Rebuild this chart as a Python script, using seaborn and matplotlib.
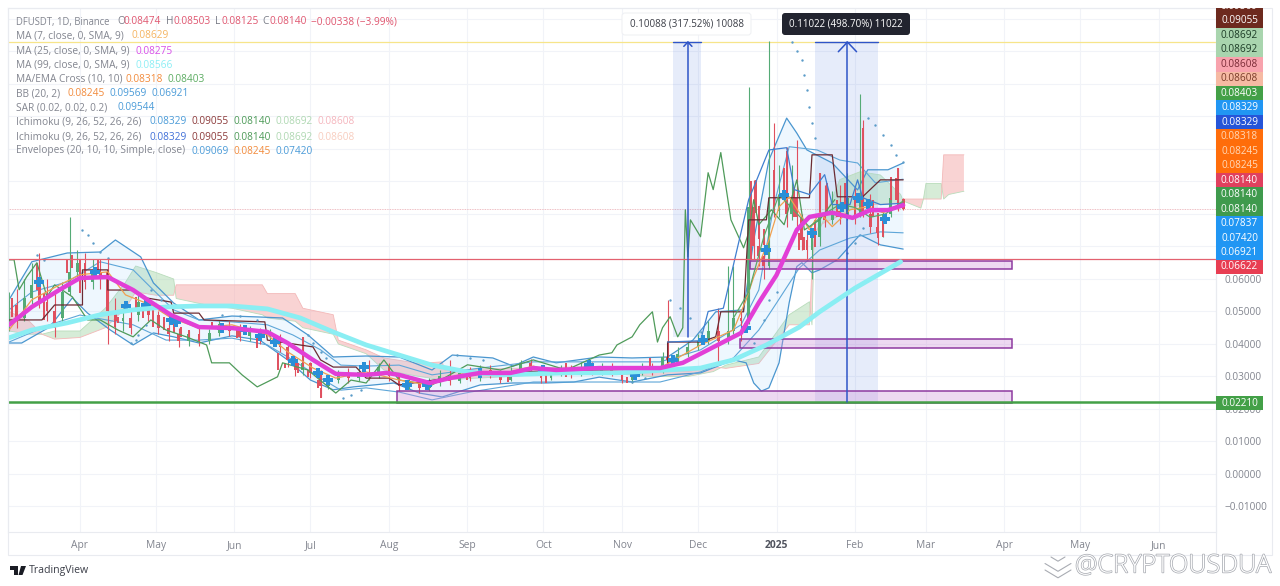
import numpy as np
import pandas as pd
import matplotlib
matplotlib.use('Agg')
import matplotlib.pyplot as plt
import matplotlib.patheffects as pe
from matplotlib.patches import Rectangle, Polygon, FancyBboxPatch
import seaborn as sns

# x axis is days since 2024-04-01, y axis is price
tick_days = [0, 30, 61, 91, 122, 153, 183, 214, 244, 275, 306, 334, 365, 395, 426]
tick_names = ['Apr', 'May', 'Jun', 'Jul', 'Aug', 'Sep', 'Oct', 'Nov', 'Dec', '2025', 'Feb', 'Mar', 'Apr', 'May', 'Jun']
price_ticks = [0.06, 0.05, 0.04, 0.03, 0.02, 0.01, 0.0, -0.01]

# ========== candles ==========
c_day = [-28, -25, -22, -19, -16, -13, -10, -7, -4, -1,
         2, 5, 8, 11, 14, 17, 20, 23, 27, 31,
         35, 39, 43, 47, 51, 55, 59, 63, 67, 71,
         75, 79, 82, 85, 88, 91, 95, 98, 102, 106,
         110, 114, 118, 122, 126, 130, 134, 138, 142, 146,
         150, 154, 158, 162, 166, 170, 174, 178, 182, 186,
         190, 194, 198, 202, 206, 210, 214, 218, 222, 226,
         230, 232, 236, 240, 244, 248, 252, 256, 258, 261,
         264, 266, 268, 270, 272, 274, 276, 279, 281, 283,
         285, 287, 289, 292, 294, 297, 300, 303, 306, 308,
         309, 312, 315, 317, 320, 323, 325]
c_open = [.0470, .0520, .0480, .0540, .0590, .0530, .0500, .0480, .0560, .0620,
          .0650, .0590, .0620, .0620, .0500, .0470, .0480, .0490, .0530, .0490,
          .0450, .0430, .0410, .0430, .0410, .0435, .0455, .0445, .0425, .0440,
          .0420, .0420, .0390, .0350, .0320, .0340, .0310, .0270, .0290, .0310,
          .0295, .0315, .0300, .0330, .0300, .0270, .0285, .0265, .0280, .0300,
          .0285, .0310, .0295, .0320, .0305, .0290, .0315, .0340, .0325, .0295,
          .0310, .0320, .0305, .0330, .0315, .0325, .0310, .0290, .0310, .0325,
          .0315, .0360, .0350, .0370, .0390, .0410, .0440, .0410, .0440, .0480,
          .0470, .0820, .0700, .0670, .0640, .0850, .0810, .0850, .0800, .0850,
          .0790, .0720, .0690, .0730, .0800, .0780, .0810, .0790, .0850, .0800,
          .0860, .0800, .0760, .0740, .0800, .0850, .0847]
c_close = [.0520, .0480, .0540, .0580, .0530, .0500, .0450, .0560, .0620, .0650,
           .0590, .0620, .0600, .0500, .0470, .0480, .0450, .0530, .0490, .0450,
           .0430, .0410, .0430, .0410, .0435, .0460, .0440, .0420, .0440, .0420,
           .0435, .0390, .0350, .0320, .0340, .0310, .0270, .0290, .0310, .0295,
           .0315, .0300, .0330, .0300, .0270, .0285, .0265, .0280, .0300, .0285,
           .0310, .0295, .0320, .0305, .0290, .0315, .0340, .0325, .0295, .0310,
           .0320, .0305, .0330, .0315, .0325, .0310, .0290, .0310, .0325, .0315,
           .0360, .0350, .0370, .0390, .0410, .0440, .0410, .0440, .0480, .0470,
           .0820, .0700, .0670, .0640, .0850, .0810, .0850, .0800, .0850, .0790,
           .0720, .0690, .0730, .0800, .0780, .0810, .0790, .0850, .0800, .0860,
           .0800, .0760, .0740, .0800, .0850, .0847, .0814]
c_high = [.0560, .0570, .0600, .0650, .0680, .0600, .0560, .0590, .0790, .0690,
          .0680, .0660, .0660, .0660, .0540, .0510, .0510, .0550, .0540, .0500,
          .0470, .0450, .0440, .0450, .0445, .0475, .0470, .0460, .0455, .0450,
          .0445, .0430, .0400, .0360, .0420, .0345, .0320, .0300, .0320, .0325,
          .0330, .0350, .0340, .0340, .0310, .0300, .0295, .0295, .0320, .0350,
          .0325, .0330, .0335, .0335, .0320, .0330, .0350, .0355, .0335, .0325,
          .0335, .0335, .0345, .0345, .0340, .0340, .0320, .0325, .0340, .0340,
          .0375, .0535, .0390, .0410, .0430, .0470, .0510, .0640, .0640, .0500,
          .1192, .0905, .0760, .0730, .1331, .1081, .0950, .1007, .0950, .1029,
          .0800, .0750, .0750, .0927, .0890, .0870, .0890, .0927, .0880, .1170,
          .1090, .0860, .0800, .0810, .0910, .0942, .0850]
c_low = [.0440, .0450, .0470, .0520, .0510, .0470, .0420, .0470, .0550, .0600,
         .0570, .0570, .0570, .0400, .0430, .0440, .0430, .0470, .0470, .0430,
         .0410, .0390, .0395, .0395, .0400, .0425, .0425, .0410, .0410, .0400,
         .0405, .0375, .0330, .0300, .0305, .0295, .0237, .0260, .0280, .0280,
         .0285, .0290, .0295, .0285, .0255, .0260, .0250, .0255, .0270, .0275,
         .0280, .0285, .0285, .0295, .0280, .0285, .0310, .0315, .0280, .0290,
         .0300, .0295, .0300, .0305, .0305, .0300, .0280, .0280, .0305, .0305,
         .0310, .0340, .0340, .0360, .0380, .0400, .0340, .0400, .0430, .0410,
         .0460, .0660, .0640, .0600, .0630, .0790, .0790, .0760, .0780, .0760,
         .0690, .0660, .0600, .0700, .0760, .0770, .0770, .0780, .0770, .0790,
         .0790, .0740, .0705, .0730, .0790, .0810, .0812]

# red candle bodies that stand out in the reference
red_day = [-27, -17, -14, -5, -3, 0, 7, 14, 15, 22, 25, 29, 33, 37, 40, 43, 52, 62, 70, 78,
           81, 86, 88, 90, 94, 95, 153, 169, 184, 192, 216, 225,
           265, 267, 268, 270, 274, 278, 279, 282, 284, 286, 290, 292, 295, 299, 302, 306, 309, 313,
           315, 317, 320, 322, 323]
red_top = [.0542, .0650, .0557, .0659, .0674, .0659, .0659, .0496, .0484, .0545, .0514, .0505, .0484, .0474,
           .0453, .0443, .0468, .0443, .0422, .0373, .0342, .0342, .0422, .0320, .0289, .0265,
           .0320, .0314, .0311, .0342, .0299, .0357,
           .0902, .0905, .0825, .0754, .0936, .0943, .0995, .0884, .0742, .0730, .0782, .0927, .0896,
           .0844, .0896, .0853, .1066, .0844, .0804, .0791, .0914, .0911, .0942]
red_bot = [.0484, .0567, .0474, .0619, .0634, .0558, .0619, .0453, .0465, .0505, .0480, .0453, .0443, .0434,
           .0422, .0419, .0449, .0419, .0388, .0320, .0326, .0311, .0329, .0299, .0265, .0234,
           .0289, .0283, .0280, .0299, .0280, .0314,
           .0659, .0804, .0723, .0705, .0813, .0844, .0862, .0791, .0690, .0690, .0699, .0804, .0804,
           .0791, .0822, .0791, .0813, .0791, .0727, .0730, .0844, .0844, .0819]

# ========== moving averages ==========
ma25_day = [-28, -19, -8, 0, 11, 21, 28, 36, 47, 60, 74, 82, 92, 101, 113, 121, 126, 138, 146, 158,
            170, 179, 188, 205, 229, 238, 248, 261, 268, 275, 283, 288, 297, 305, 312, 319, 325]
ma25_val = [.0459, .0514, .0567, .0603, .0606, .0566, .0529, .0489, .0452, .0449, .0437, .0403, .0351, .0308,
            .0305, .0311, .0305, .0280, .0295, .0311, .0311, .0326, .0320, .0326, .0326, .0342, .0382, .0434,
            .0527, .0612, .0751, .0791, .0804, .0788, .0812, .0812, .0827]

ma99_day = [-28, -19, -5, 8, 21, 34, 47, 60, 74, 87, 100, 113, 126, 139, 153, 166, 192, 212, 232, 245,
            258, 271, 284, 292, 306, 324]
ma99_val = [.0419, .0443, .0465, .0490, .0505, .0514, .0517, .0517, .0508, .0480, .0437, .0397, .0366, .0335,
            .0314, .0305, .0311, .0311, .0320, .0326, .0351, .0397, .0452, .0499, .0572, .0653]

ma7_day = [-28, -19, -8, 0, 11, 18, 28, 36, 47, 60, 74, 82, 92, 101, 113, 126, 138, 153, 170, 179,
           188, 205, 229, 245, 258, 263, 266, 272, 276, 280, 284, 288, 292, 297, 304, 311, 317, 325]
ma7_val = [.0443, .0536, .0582, .0613, .0622, .0551, .0520, .0480, .0449, .0459, .0428, .0376, .0326, .0295,
           .0314, .0289, .0274, .0314, .0314, .0332, .0311, .0329, .0326, .0397, .0443, .0536, .0606, .0720,
           .0822, .0853, .0804, .0751, .0804, .0761, .0813, .0822, .0804, .0829]

ema_day = [258, 264, 270, 276, 282, 288, 294, 300, 306, 312, 318, 325]
ema_val = [.0480, .0560, .0730, .0860, .0810, .0760, .0800, .0830, .0820, .0790, .0800, .0840]

# ========== lagging span, green ==========
lag_day = [-28, -26, -24, -21, -17, -13, -10, -3, 3, 8, 15, 21, 28, 34, 42, 50, 52, 59, 64, 70,
           78, 80, 90, 98, 101, 107, 113, 120, 126, 139, 153, 166, 179, 192, 205, 210, 212, 218, 221, 226,
           228, 230, 233, 236, 238, 239, 240, 241, 245, 248, 250, 253, 257, 262, 264, 266, 268, 273, 278, 283,
           286, 292, 298]
lag_val = [.0659, .0659, .0567, .0607, .0650, .0545, .0582, .0545, .0474, .0474, .0443, .0422, .0474, .0443,
           .0422, .0397, .0342, .0342, .0305, .0268, .0299, .0342, .0320, .0268, .0249, .0289, .0280, .0351,
           .0289, .0274, .0336, .0320, .0351, .0320, .0366, .0373, .0397, .0422, .0459, .0499, .0406, .0450,
           .0484, .0422, .0450, .0813, .0668, .0782, .0730, .0927, .0875, .0989, .0782, .0696, .0742, .0844,
           .0767, .0813, .0767, .0905, .0751, .0782, .0844]

# ========== bands ==========
bb_up_day = [-28, -19, -5, 8, 14, 24, 29, 37, 47, 60, 71, 80, 90, 100, 113, 126, 139, 147, 163, 171,
             179, 188, 205, 218, 232, 242, 251, 262, 266, 272, 279, 283, 287, 297, 307, 311, 319, 325]
bb_up_val = [.0536, .0653, .0680, .0683, .0720, .0668, .0588, .0526, .0474, .0486, .0483, .0480, .0428, .0360,
             .0363, .0360, .0320, .0366, .0357, .0332, .0360, .0342, .0360, .0357, .0360, .0412, .0499, .0505,
             .0720, .0966, .1095, .1049, .0997, .0957, .0874, .0936, .0936, .0957]
bb_lo_day = [-28, -23, -12, -3, 3, 12, 21, 29, 37, 47, 60, 71, 82, 91, 100, 108, 124, 134, 143, 158,
             171, 184, 195, 205, 218, 232, 245, 258, 263, 266, 269, 272, 276, 280, 283, 285, 289, 292, 299, 305,
             308, 316, 325]
bb_lo_val = [.0403, .0403, .0452, .0542, .0495, .0443, .0397, .0434, .0422, .0403, .0425, .0412, .0351, .0289,
             .0259, .0268, .0280, .0249, .0237, .0274, .0280, .0280, .0283, .0298, .0283, .0305, .0311, .0351,
             .0342, .0280, .0255, .0265, .0342, .0527, .0638, .0650, .0619, .0628, .0659, .0711, .0736, .0705,
             .0692]
env_up_day = [-28, -19, -5, 8, 21, 29, 37, 47, 60, 74, 84, 95, 103, 113, 126, 139, 158, 179, 205, 229,
              245, 261, 268, 274, 280, 291, 300, 307, 314, 325]
env_up_val = [.0505, .0560, .0591, .0653, .0628, .0566, .0505, .0474, .0468, .0459, .0428, .0382, .0335, .0332,
              .0335, .0305, .0326, .0345, .0345, .0345, .0382, .0459, .0566, .0829, .1007, .0997, .0966, .0957,
              .0896, .0907]
env_lo_day = [-28, -12, 0, 21, 34, 47, 60, 74, 84, 95, 103, 113, 126, 139, 154, 179, 205, 229, 245, 258,
              268, 275, 284, 292, 304, 316, 325]
env_lo_val = [.0406, .0459, .0489, .0459, .0412, .0412, .0418, .0397, .0351, .0295, .0258, .0265, .0252, .0228,
              .0252, .0283, .0283, .0283, .0314, .0357, .0443, .0526, .0634, .0689, .0726, .0745, .0742]

# ========== ichimoku ==========
base_day = [-28, -15, -10, 1, 1, 11, 11, 21, 26, 36, 37, 47, 49, 73, 74, 92, 95, 100, 109, 113,
            122, 126, 154, 190, 221, 232, 232, 245, 251, 253, 262, 264, 271, 272, 288, 289, 297, 299, 309, 316,
            325]
base_val = [.0474, .0474, .0520, .0520, .0628, .0628, .0566, .0566, .0542, .0529, .0495, .0495, .0474, .0468,
            .0412, .0391, .0351, .0329, .0329, .0295, .0295, .0274, .0305, .0320, .0314, .0320, .0406, .0406,
            .0422, .0499, .0499, .0782, .0782, .0850, .0850, .0982, .0982, .0853, .0853, .0905, .0905]
conv_day = [232, 245, 248, 254, 264, 272, 279, 282, 288, 294, 297, 304, 307, 309, 316, 325]
conv_val = [.0406, .0410, .0500, .0510, .0844, .0997, .1004, .0875, .0860, .0921, .0829, .0829, .0905, .0850, .0829, .0833]

cloud_day = [-28, -20, -15, -10, 0, 10, 18, 22, 30, 37, 38, 50, 60, 72, 74, 85, 88, 100, 102, 113,
             120, 134, 143, 144, 170, 200, 225, 240, 250, 255, 268, 280, 288, 289, 290, 292, 300, 308, 316, 324,
             325, 332, 333, 334, 340, 341, 343, 349]
span_a = [.0440, .0430, .0430, .0440, .0440, .0510, .0590, .0640, .0620, .0600, .0540, .0520, .0510, .0490,
          .0480, .0470, .0450, .0430, .0400, .0370, .0320, .0300, .0290, .0290, .0300, .0315, .0300, .0300,
          .0315, .0335, .0360, .0490, .0530, .0459, .0750, .0751, .0906, .0930, .0920, .0860, .0840, .0818,
          .0846, .0894, .0894, .0846, .0860, .0870]
span_b = [.0500, .0470, .0430, .0415, .0420, .0450, .0510, .0560, .0550, .0550, .0582, .0582, .0582, .0582,
          .0555, .0555, .0510, .0490, .0412, .0382, .0357, .0340, .0345, .0320, .0325, .0330, .0320, .0315,
          .0330, .0325, .0340, .0459, .0459, .0638, .0740, .0766, .0795, .0829, .0829, .0835, .0846, .0846,
          .0846, .0846, .0846, .0982, .0982, .0982]

# ========== SAR dots and the blue crosses ==========
sar_day = [-17, -14, 1, 3, 5, 8, 11, 20, 22, 23, 26, 28, 32, 34, 56, 63, 70, 90, 92, 95,
           97, 104, 107, 111, 149, 154, 159, 218, 223, 228, 233, 237, 241, 245, 266, 270, 272, 275, 281, 283,
           285, 286, 287, 288, 289, 290, 303, 306, 309, 311, 314, 317, 320, 322, 325]
sar_val = [.0675, .0659, .0751, .0736, .0711, .0683, .0665, .0403, .0412, .0428, .0459, .0566, .0536, .0514,
           .0490, .0486, .0474, .0428, .0403, .0376, .0357, .0234, .0243, .0259, .0366, .0357, .0351, .0283,
           .0296, .0320, .0536, .0511, .0480, .0437, .0403, .0474, .0536, .0560, .1330, .1300, .1275, .1229,
           .1183, .1130, .1081, .1035, .0680, .0711, .0757, .1095, .1074, .1043, .1012, .0982, .0960]
cross_day = [-16, 6, 18, 26, 36, 38, 56, 65, 71, 77, 84, 94, 98, 112, 129, 137, 158, 183, 201, 219,
             234, 246, 263, 271, 278, 289, 301, 307, 311, 318]
cross_val = [.0591, .0622, .0517, .0520, .0474, .0468, .0449, .0443, .0425, .0406, .0348, .0311, .0289, .0329,
             .0274, .0274, .0311, .0320, .0336, .0305, .0351, .0412, .0450, .0690, .0859, .0742, .0822, .0850,
             .0832, .0785]

# ========== horizontal levels and zones ==========
level_yellow = 0.1329
level_last = 0.0814
level_red = 0.06622
level_green = 0.0221
zone_left = [264.5, 260.5, 125]
zone_right = [368, 368, 368]
zone_top = [.0656, .0416, .0255]
zone_bottom = [.0631, .0388, .0218]
range_left = [234, 290]
range_right = [245, 315]
range_mid = [240, 303]
range_bottom = [.0422, .0221]

# ========== legend and price tags ==========
legend_rows = ['DFUSDT, 1D, Binance', 'MA (7, close, 0, SMA, 9)', 'MA (25, close, 0, SMA, 9)', 'MA (99, close, 0, SMA, 9)',
               'MA/EMA Cross (10, 10)', 'BB (20, 2)', 'SAR (0.02, 0.02, 0.2)', 'Ichimoku (9, 26, 52, 26, 26)',
               'Ichimoku (9, 26, 52, 26, 26)', 'Envelopes (20, 10, 10, Simple, close)']
legend_y = [22, 36, 51, 65, 79, 94, 108, 122, 137, 151]
legend_vals = [
    [(117, 'O', '#787b86'), (123, '0.08474', '#e0566f'), (166, 'H', '#787b86'), (173, '0.08503', '#e0566f'),
     (215, 'L', '#787b86'), (222, '0.08125', '#e0566f'), (262, 'C', '#787b86'), (270, '0.08140', '#e0566f'),
     (311, '\u22120.00338 (\u22123.99%)', '#e0566f')],
    [(131, '0.08629', '#f5b461')],
    [(136, '0.08275', '#d84fe8')],
    [(136, '0.08566', '#8ceef5')],
    [(125, '0.08318', '#f28b3c'), (167, '0.08403', '#5cac62')],
    [(67, '0.08245', '#f28b3c'), (109, '0.09569', '#4a9bd8'), (151, '0.06921', '#4a9bd8')],
    [(117, '0.09544', '#4a9bd8')],
    [(149, '0.08329', '#4a9bd8'), (191, '0.09055', '#8c3a3a'), (233, '0.08140', '#4c9a57'),
     (275, '0.08692', '#afd8b2'), (317, '0.08608', '#f5b5bd')],
    [(149, '0.08329', '#3f6fd8'), (191, '0.09055', '#8c3a3a'), (233, '0.08140', '#4c9a57'),
     (275, '0.08692', '#afd8b2'), (317, '0.08608', '#f8cdbf')],
    [(192, '0.09069', '#4a9bd8'), (234, '0.08245', '#f28b3c'), (276, '0.07420', '#4a9bd8')],
]

tag_vals = ['0.09569', '0.09055', '0.08692', '0.08692', '0.08608', '0.08608', '0.08403', '0.08329', '0.08329', '0.08318',
            '0.08245', '0.08245', '0.08140', '0.08140', '0.08140', '0.07837', '0.07420', '0.06921', '0.06622']
tag_bg = ['#6d2a1e', '#6d2a1e', '#a9d5ae', '#a9d5ae', '#f8a3ad', '#f6baa3', '#43a047', '#2196f3', '#2655d8', '#ff6d0a',
          '#ff6d0a', '#ff6d0a', '#e0405e', '#3f9a4d', '#3f9a4d', '#2196f3', '#2196f3', '#2196f3', '#e83e52']
tag_fg = ['white', 'white', '#1c3b26', '#1c3b26', '#7a2b36', '#7a3b28', 'white', 'white', 'white', '#ffd9b8',
          '#ffd9b8', '#ffd9b8', 'white', 'white', 'white', 'white', 'white', 'white', 'white']

sns.set_theme(style='white')
plt.rcParams['font.family'] = ['Open Sans', 'DejaVu Sans']

W, H = 1280, 586
GRID = '#f1f3f8'
TXT = '#82858f'
fig = plt.figure(figsize=(W/100, H/100), dpi=100, facecolor='white')
ax = fig.add_axes([8/W, 1-532/H, (1216-8)/W, (532-8)/H])
ax.set_xlim(-28.4, 448.5)
ax.set_ylim(-0.01785, 0.14338)


def line(days, vals, color, lw=0.8, z=4, alpha=1.0, **kw):
    sns.lineplot(x=days, y=vals, color=color, linewidth=lw, zorder=z, alpha=alpha,
                 estimator=None, sort=False, legend=False, ax=ax, **kw)


# grid and ticks
ax.set_xticks(tick_days)
ax.set_xticklabels(tick_names, fontsize=7.4, color=TXT)
ax.get_xticklabels()[9].set_fontweight('bold')
ax.get_xticklabels()[9].set_color('#50535e')
ax.yaxis.tick_right()
ax.set_yticks(price_ticks)
ax.set_yticklabels(['%.5f' % p if p >= 0 else '\u2212%.5f' % abs(p) for p in price_ticks], fontsize=7.2, color=TXT)
ax.tick_params(axis='both', length=0, pad=6)
for p in np.arange(-0.01, 0.141, 0.01):
    ax.axhline(p, color=GRID, lw=0.8, zorder=0)
for d in tick_days:
    ax.axvline(d, color=GRID, lw=0.8, zorder=0)
ax.set_xlabel('')
ax.set_ylabel('')
for s in ax.spines.values():
    s.set_color('#e9ebf0')
    s.set_linewidth(0.8)

# levels
ax.axhline(level_yellow, color='#f7e58a', lw=0.9, zorder=1)
ax.axhline(level_last, color='#e9a7ae', lw=0.6, ls=(0, (1, 1)), zorder=1)
ax.axhline(level_red, color='#e3616f', lw=0.9, zorder=7)
ax.axhline(level_green, color='#43a047', lw=1.8, zorder=7)

# price range tools
for l, r, m, b in zip(range_left, range_right, range_mid, range_bottom):
    ax.add_patch(Rectangle((l, b), r-l, level_yellow-b, fc='#3f6fe0', alpha=0.13, ec='none', zorder=1))
    ax.plot([l, r], [level_yellow, level_yellow], color='#2f55c8', lw=1.0, zorder=8)
    ax.plot([m, m], [b, level_yellow], color='#2f55c8', lw=1.1, zorder=8)
    head = 9 if r-l > 15 else 4
    ax.plot([m-head*0.4, m, m+head*0.4], [level_yellow-head*0.0003*1.1, level_yellow, level_yellow-head*0.0003*1.1],
            color='#2f55c8', lw=1.1, zorder=8)

# cloud
sa = np.array(span_a)
sb = np.array(span_b)
ax.fill_between(cloud_day, sa, sb, where=sa >= sb, interpolate=True, color='#a5d6a7', alpha=0.45, lw=0, zorder=2)
ax.fill_between(cloud_day, sa, sb, where=sb >= sa, interpolate=True, color='#f5a9a9', alpha=0.5, lw=0, zorder=2)
line(cloud_day, span_a, '#b9dcbb', lw=0.6, z=2)
line(cloud_day, span_b, '#f3b8b8', lw=0.6, z=2)

# bands
ax.add_patch(Polygon(np.c_[bb_up_day + bb_lo_day[::-1], bb_up_val + bb_lo_val[::-1]],
                     fc='#90caf9', alpha=0.15, ec='none', zorder=2))
line(bb_up_day, bb_up_val, '#4a96cf', lw=0.9, z=3)
line(bb_lo_day, bb_lo_val, '#4a96cf', lw=0.9, z=3)
line(env_up_day, env_up_val, '#5ea6d8', lw=0.8, z=3)
line(env_lo_day, env_lo_val, '#5ea6d8', lw=0.8, z=3)

# zones
for l, r, t, b in zip(zone_left, zone_right, zone_top, zone_bottom):
    ax.add_patch(Rectangle((l, b), r-l, t-b, fc='#ce93d8', alpha=0.35, ec='none', zorder=5))
    ax.add_patch(Rectangle((l, b), r-l, t-b, fc='none', ec='#8e3aa0', lw=1.1, zorder=6))

# candles
cdf = pd.DataFrame({'day': c_day, 'open': c_open, 'close': c_close, 'high': c_high, 'low': c_low})
cdf['col'] = np.where(cdf['close'] >= cdf['open'], '#55ab76', '#e0505f')
ax.vlines(cdf['day'], cdf['low'], cdf['high'], colors=cdf['col'], lw=0.8, zorder=5)
ax.bar(cdf['day'], (cdf['close']-cdf['open']).abs(), bottom=cdf[['open', 'close']].min(axis=1),
       width=1.1, color=cdf['col'], lw=0, zorder=5)
ax.vlines(red_day, red_bot, red_top, colors='#df4f5e', lw=1.4, zorder=5)

line(lag_day, lag_val, '#4f9b5a', lw=0.9, z=5)
line(base_day, base_val, '#6b2b33', lw=0.9, z=6)
line(conv_day, conv_val, '#3f7fd0', lw=0.9, z=6)
line(ma7_day, ma7_val, '#f0a050', lw=0.9, z=6)
line(ema_day, ema_val, '#5aa868', lw=0.9, z=6)
sns.scatterplot(x=sar_day, y=sar_val, color='#5b9cc8', s=3, linewidth=0, zorder=6, ax=ax, legend=False)
sns.scatterplot(x=cross_day, y=cross_val, color='#2a8fd8', marker='P', s=48, linewidth=0, zorder=7, ax=ax, legend=False)
line(ma99_day, ma99_val, '#8aeef3', lw=3.4, z=8)
line(ma25_day, ma25_val, '#e23fd6', lw=3.2, z=9)

# chrome drawn in pixel space on top
ov = fig.add_axes([0, 0, 1, 1], facecolor='none')
ov.set_xlim(0, W)
ov.set_ylim(H, 0)
ov.axis('off')
ov.add_patch(Rectangle((8, 8), 1264, 547, fc='none', ec='#e9ebf0', lw=0.8, zorder=1))
ov.plot([1216, 1216], [8, 555], color='#e9ebf0', lw=0.8, zorder=1)

for i, (v, bg, fg) in enumerate(zip(tag_vals, tag_bg, tag_fg)):
    yc = 6.5 + i*14.47
    ov.add_patch(Rectangle((1216, yc-7.3), 47, 14.6, fc=bg, ec='none', zorder=3))
    ov.text(1239.5, yc, v, color=fg, fontsize=7.2, ha='center', va='center', zorder=4)
ov.add_patch(Rectangle((1216, 396), 47, 13.6, fc='#43a047', ec='none', zorder=3))
ov.text(1239.5, 403, '0.02210', color='white', fontsize=7.2, ha='center', va='center', zorder=4)
ov.add_patch(Rectangle((1210, 0), 60, 8, fc='white', ec='none', zorder=5))

for i, (txt, yy, vals) in enumerate(zip(legend_rows, legend_y, legend_vals)):
    ov.text(16, yy, txt, color=TXT, fontsize=6.85 if i == 0 else 7.3, va='center', zorder=6)
    for xx, s, col in vals:
        ov.text(xx, yy, s, color=col, fontsize=7.3, va='center', zorder=6)

# measure labels
ov.add_patch(FancyBboxPatch((624, 15), 125, 18, boxstyle='round,pad=2,rounding_size=3', fc='white', ec='#f0f1f4', lw=0.8, zorder=6))
ov.text(686.5, 23.5, '0.10088 (317.52%) 10088', color='#3a3d46', fontsize=7.0, ha='center', va='center', zorder=7)
ov.add_patch(FancyBboxPatch((784, 15), 124, 18, boxstyle='round,pad=2,rounding_size=3', fc='#22242f', ec='none', zorder=6))
ov.text(846, 24, '0.11022 (498.70%) 11022', color='white', fontsize=7.0, ha='center', va='center', zorder=7)

# TradingView mark
ov.add_patch(Polygon([(10, 566), (18, 566), (18, 575), (14, 575), (14, 569.5), (10, 569.5)], fc='#1a1c24', ec='none'))
ov.add_patch(Polygon([(21, 566), (26, 566), (22.5, 575), (18.5, 575)], fc='#1a1c24', ec='none'))
ov.text(29, 571, 'TradingView', color='#3b3e48', fontsize=7.6, va='center')

# watermark
wm = ov.text(1075, 566, '@CRYPTOUSDUA', color='white', fontsize=18.2, va='center', fontweight='light')
wm.set_path_effects([pe.withStroke(linewidth=1.0, foreground='#a5a8af')])
for dy, half in zip([0, 6.5, 13], [7, 13, 13]):
    ov.plot([1058-half, 1058, 1058+half], [557+dy, 557+dy+half*0.6, 557+dy], color='#a9acb3', lw=0.8)

fig.savefig('out.png', dpi=100, facecolor='white')
